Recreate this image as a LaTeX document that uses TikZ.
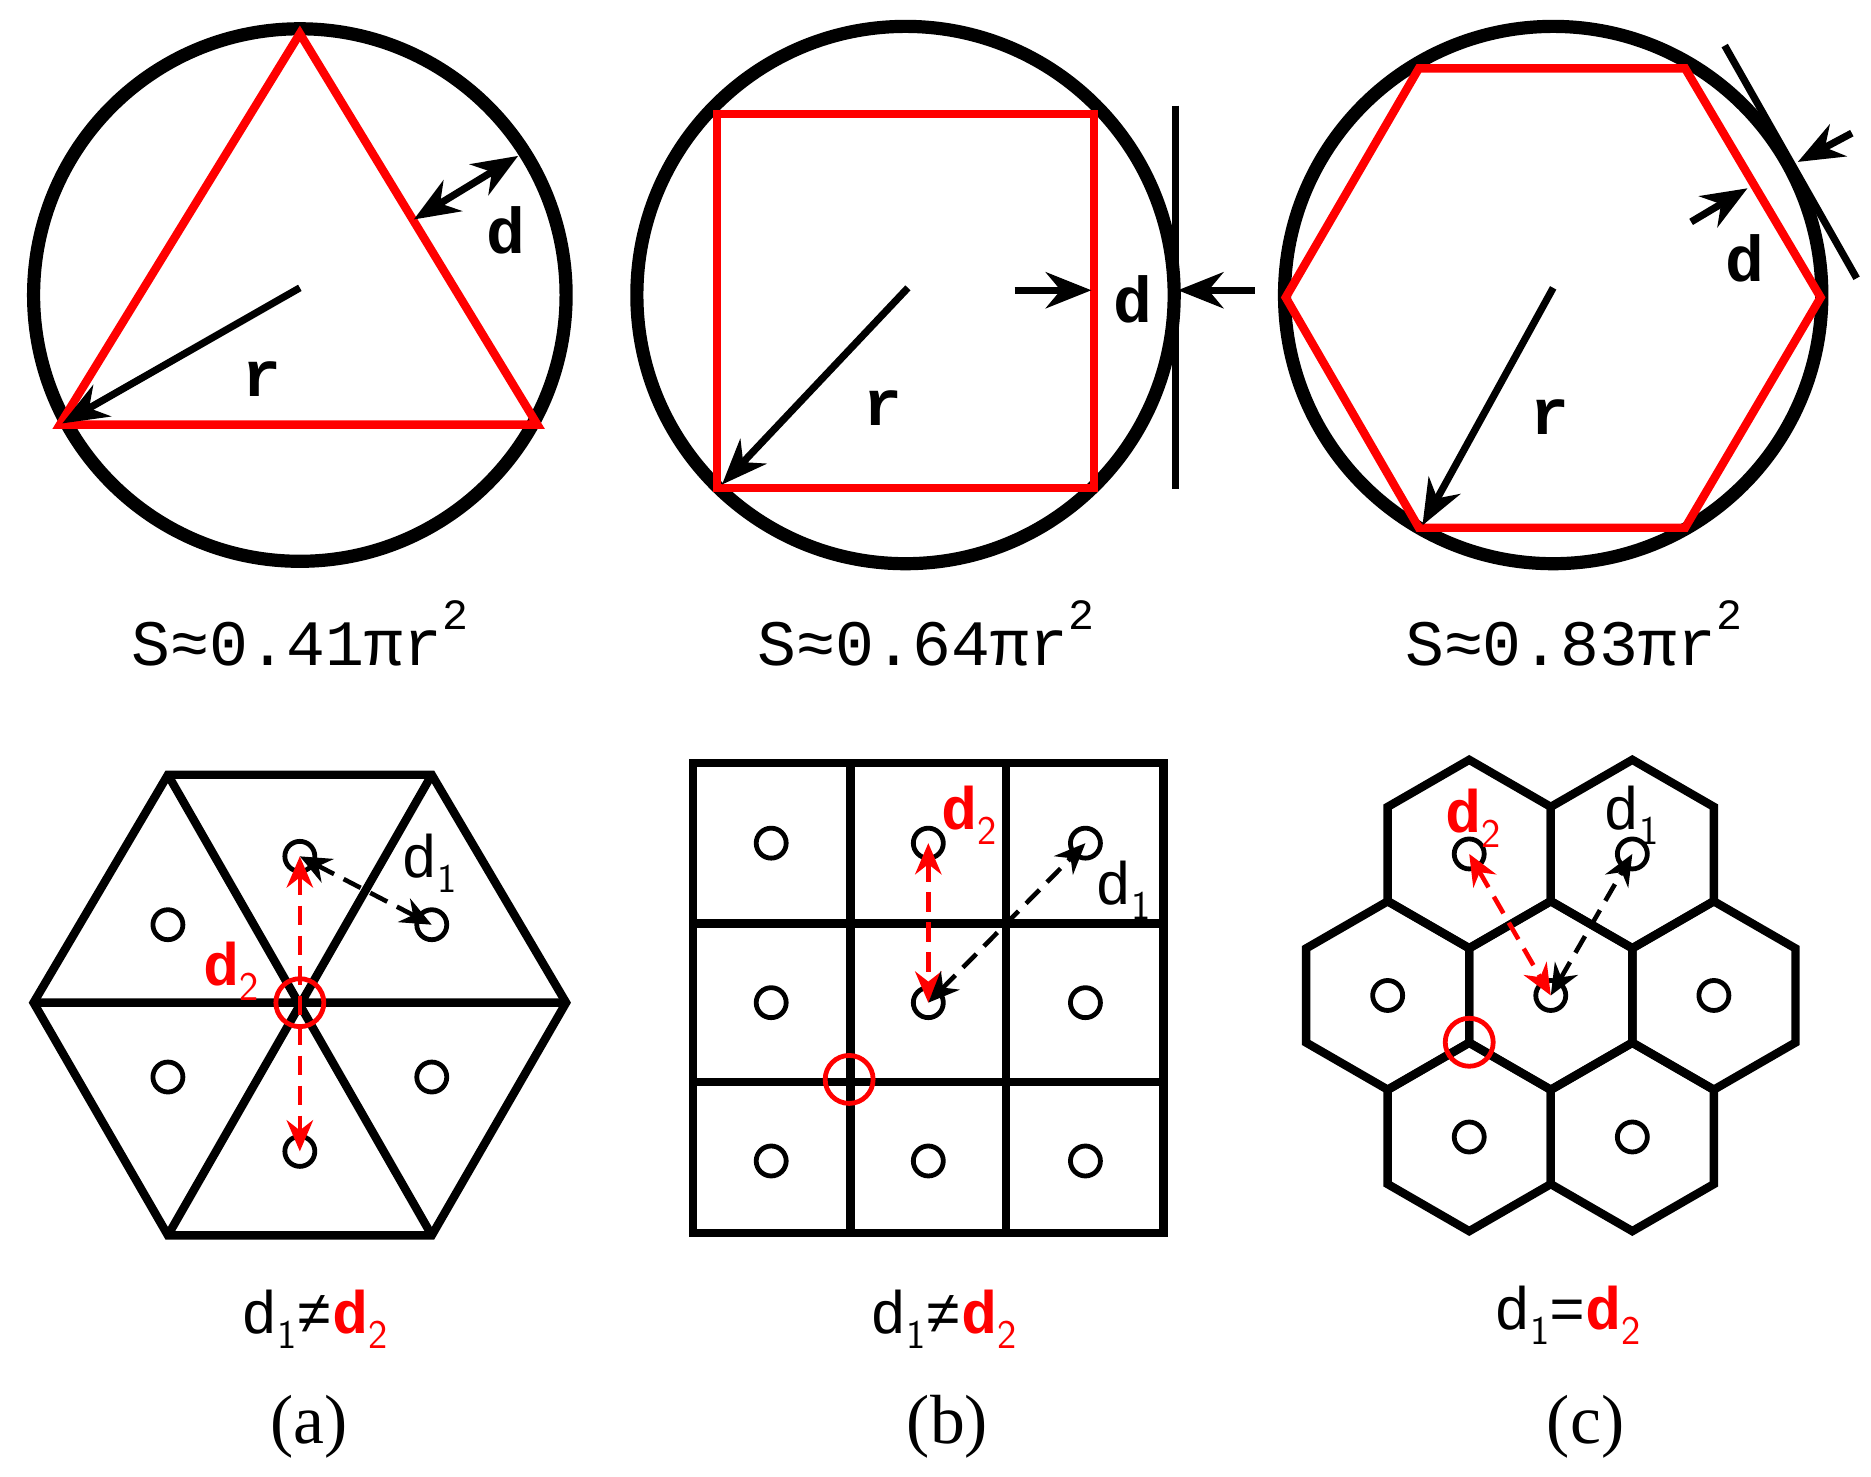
\documentclass[tikz,border=0pt]{standalone}
\usepackage{fontspec}
\setmonofont{Liberation Mono}
\setmainfont{Liberation Serif}
\newfontfamily\mbold{Liberation Mono Bold}
\usetikzlibrary{arrows.meta}
\newcommand{\sbs}[1]{\raisebox{-0.25em}{\sffamily\fontsize{34}{36}\selectfont #1}}
\begin{document}
\begin{tikzpicture}[x=1pt,y=-1pt,
  big/.style={line width=11pt},
  redl/.style={red,line width=7pt},
  arr/.style={line width=6pt,-{Stealth[length=38pt,width=30pt]}},
  darr/.style={line width=6pt,{Stealth[length=38pt,width=30pt]}-{Stealth[length=38pt,width=30pt]}},
  dsh/.style={line width=3.8pt,dash pattern=on 16pt off 9pt,{Stealth[length=26pt,width=22pt]}-{Stealth[length=26pt,width=22pt]}},
  cell/.style={line width=7pt,line join=miter},
  dot/.style={circle,draw,line width=4pt,minimum size=25pt,inner sep=0pt},
  rdot/.style={circle,draw=red,line width=4pt,minimum size=40pt,inner sep=0pt},
  lab/.style={font=\mbold\fontsize{54}{56}\selectfont,inner sep=0pt},
  formula/.style={font=\ttfamily\fontsize{54}{56}\selectfont,inner sep=0pt},
  sublab/.style={font=\ttfamily\fontsize{50}{52}\selectfont,inner sep=0pt},
  captext/.style={font=\rmfamily\fontsize{58}{60}\selectfont,inner sep=0pt}]
\useasboundingbox (0,0) rectangle (1560,1231);
% ---- top row ----
\node[draw,big,circle,minimum size=444pt,inner sep=0pt] (c1) at (250,246) {};
\draw[redl,line join=miter] (250,28) -- (50,354) -- (448,354) -- cycle;
\coordinate (c1c) at (250,240); \coordinate (t1) at (52,353);
\draw[arr] (c1c) -- (t1);
\node[lab] (r1) at (218,316) {r};
\coordinate (d1a) at (345,183); \coordinate (d1b) at (432,130);
\draw[darr] (d1a) -- (d1b);
\node[lab] (dl1) at (422,192) {d};

\node[draw,big,circle,minimum size=448pt,inner sep=0pt] (c2) at (755,246) {};
\draw[redl,line join=miter] (598,95) rectangle (912,407);
\coordinate (c2c) at (757,240); \coordinate (t2) at (602,404);
\draw[arr] (c2c) -- (t2);
\node[lab] (r2) at (736,340) {r};
\coordinate (v1) at (980,88); \coordinate (v2) at (980,408);
\draw[line width=6pt] (v1) -- (v2);
\coordinate (a1) at (846,242); \coordinate (a2) at (910,242);
\coordinate (a3) at (1046,242); \coordinate (a4) at (982,242);
\draw[arr] (a1) -- (a2); \draw[arr] (a3) -- (a4);
\node[lab] (dl2) at (945,250) {d};

\node[draw,big,circle,minimum size=448pt,inner sep=0pt] (c3) at (1295,246) {};
\draw[redl,line join=miter] (1072,248) -- (1183,57) -- (1405,57) -- (1518,248) -- (1405,440) -- (1183,440) -- cycle;
\coordinate (c3c) at (1295,240); \coordinate (t3) at (1186,438);
\draw[arr] (c3c) -- (t3);
\node[lab] (r3) at (1292,348) {r};
\coordinate (tg1) at (1438,38); \coordinate (tg2) at (1548,232);
\draw[line width=6pt] (tg1) -- (tg2);
\coordinate (b1) at (1410,185); \coordinate (b2) at (1457,157);
\coordinate (b3) at (1544,111); \coordinate (b4) at (1499,135);
\draw[arr] (b1) -- (b2); \draw[arr] (b3) -- (b4);
\node[lab] (dl3) at (1455,215) {d};

\node[formula] (f1) at (250,528) {S≈0.41πr\raisebox{0.55em}{\fontsize{36}{38}\selectfont 2}};
\node[formula] (f2) at (772,528) {S≈0.64πr\raisebox{0.55em}{\fontsize{36}{38}\selectfont 2}};
\node[formula] (f3) at (1312,528) {S≈0.83πr\raisebox{0.55em}{\fontsize{36}{38}\selectfont 2}};

% ---- (a) ----
\draw[cell] (28,836) -- (140,646) -- (360,646) -- (472,836) -- (360,1030) -- (140,1030) -- cycle;
\draw[cell] (28,836) -- (472,836) (140,646) -- (360,1030) (360,646) -- (140,1030);
\foreach \n/\p in {a1/{(250,714)},a2/{(140,771)},a3/{(360,771)},a4/{(140,898)},a5/{(360,898)},a6/{(250,960)}}
  \node[dot] (\n) at \p {};
\node[rdot] (ar) at (250,836) {};
\draw[dsh,red] (a1.center) -- (a6.center);
\draw[dsh] (a1.center) -- (a3.center);
\node[sublab] (ad1) at (358,720) {d\sbs{1}};
\node[sublab,red,font=\mbold\fontsize{50}{52}\selectfont] (ad2) at (193,810) {d\sbs{2}};

% ---- (b) ----
\draw[cell] (578,636) rectangle (970,1028);
\draw[cell] (709,636) -- (709,1028) (839,636) -- (839,1028) (578,770) -- (970,770) (578,902) -- (970,902);
\foreach \i/\x in {1/643,2/774,3/905}
  \foreach \j/\y in {1/703,2/836,3/968}
    \node[dot] (b\i\j) at (\x,\y) {};
\node[rdot] (br) at (708,900) {};
\draw[dsh,red] (b21.center) -- (b22.center);
\draw[dsh] (b22.center) -- (b31.center);
\node[sublab,red,font=\mbold\fontsize{50}{52}\selectfont] (bd2) at (808,680) {d\sbs{2}};
\node[sublab] (bd1) at (936,742) {d\sbs{1}};

% ---- (c) ----
\foreach \n/\x/\y in {h1/1225/712,h2/1361/712,h3/1157/830,h4/1293/830,h5/1429/830,h6/1225/948,h7/1361/948}{
  \draw[cell] (\x,\y-78.5) -- (\x+68,\y-39.25) -- (\x+68,\y+39.25) -- (\x,\y+78.5) -- (\x-68,\y+39.25) -- (\x-68,\y-39.25) -- cycle;
  \node[dot] (\n) at (\x,\y) {};
}
\node[rdot] (cr) at (1225,869) {};
\draw[dsh,red] (h1.center) -- (h4.center);
\draw[dsh] (h4.center) -- (h2.center);
\node[sublab,red,font=\mbold\fontsize{50}{52}\selectfont] (cd2) at (1228,682) {d\sbs{2}};
\node[sublab] (cd1) at (1360,680) {d\sbs{1}};

% ---- bottom labels ----
\node[sublab] (l1) at (262,1100) {d\sbs{1}≠\textcolor{red}{\mbold d\sbs{2}}};
\node[sublab] (l2) at (787,1100) {d\sbs{1}≠\textcolor{red}{\mbold d\sbs{2}}};
\node[sublab] (l3) at (1307,1097) {d\sbs{1}=\textcolor{red}{\mbold d\sbs{2}}};
\node[captext] (ca) at (258,1190) {(a)};
\node[captext] (cb) at (790,1190) {(b)};
\node[captext] (cc) at (1322,1190) {(c)};
\end{tikzpicture}
\end{document}
